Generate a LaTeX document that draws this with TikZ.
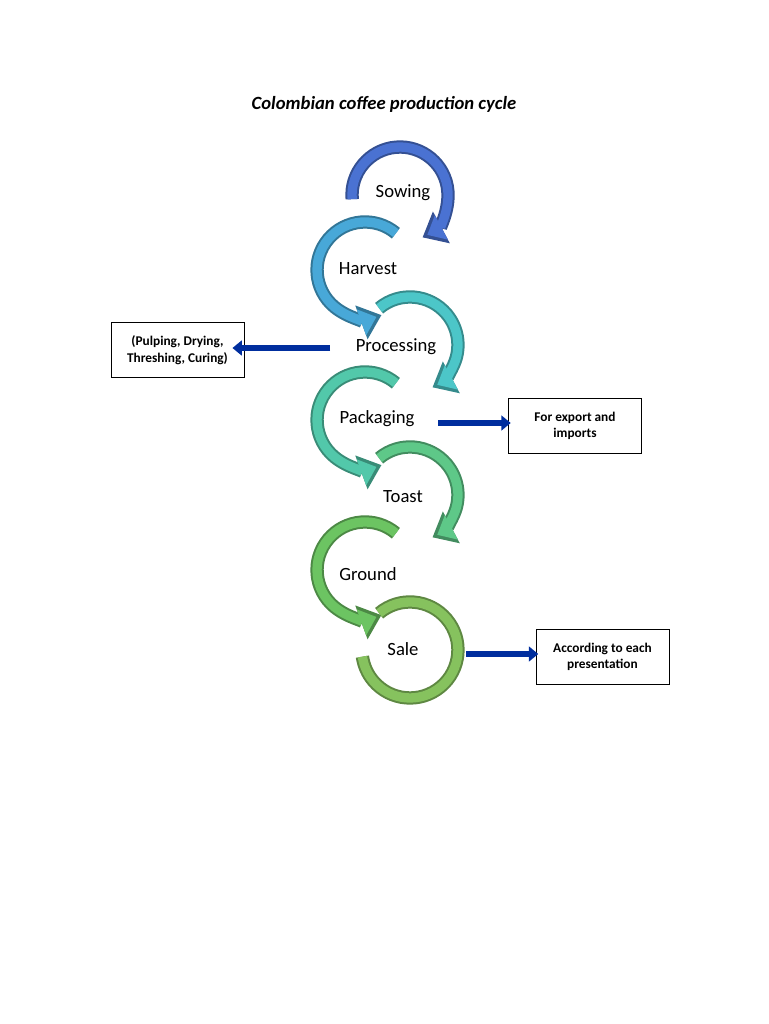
\documentclass[tikz,border=0pt]{standalone}
\usepackage{fontspec}
\setmainfont{Carlito}
\usetikzlibrary{arrows.meta,positioning}

\begin{document}
\begin{tikzpicture}[x=0.75pt,y=0.75pt,semithick,
  ring/.style={line width=10pt,draw=#1!70!black,-{Triangle[width=26pt,length=16pt]},
    postaction={draw=#1,line width=7pt,shorten >=4pt,-{Triangle[width=20pt,length=12pt]}}},
  stage/.style={font=\fontsize{14}{16}\selectfont},
  note/.style={draw,thin,font=\bfseries\fontsize{10}{12.5}\selectfont,align=center,minimum width=100pt,minimum height=41pt},
  side/.style={-{Triangle[width=11pt,length=7pt]},line width=4.5pt,draw=blue!55!teal!80!black}]
\useasboundingbox (0,0) rectangle (768,-1024);
\definecolor{c1}{HTML}{4A72D2}
\definecolor{c2}{HTML}{48A8D8}
\definecolor{c3}{HTML}{4CC6C8}
\definecolor{c4}{HTML}{52C8AA}
\definecolor{c5}{HTML}{5EC888}
\definecolor{c6}{HTML}{6CC462}
\definecolor{c7}{HTML}{86C25E}

\node at (384,-104) {\bfseries\itshape\fontsize{14}{16}\selectfont Colombian coffee production cycle};

% the spiral of arrows
\draw[ring=c1] (352.2,-199.2) arc[start angle=185,end angle=-62,radius=48];
\draw[ring=c2] (395.9,-233.2) arc[start angle=50,end angle=290,radius=48];
\draw[ring=c3] (379.1,-308.2) arc[start angle=130,end angle=-62,radius=48];
\draw[ring=c4] (395.9,-383.2) arc[start angle=50,end angle=290,radius=48];
\draw[ring=c5] (379.1,-458.2) arc[start angle=130,end angle=-62,radius=48];
\draw[ring=c6] (395.9,-533.2) arc[start angle=50,end angle=290,radius=48];
\draw[line width=10pt,draw=c7!70!black] (379.1,-613.2) arc[start angle=130,end angle=-172,radius=48];
\draw[line width=7pt,draw=c7] (379.1,-613.2) arc[start angle=130,end angle=-172,radius=48];

\node[stage] (sowing) at (403,-193) {Sowing};
\node[stage] (harvest) at (368,-269) {Harvest};
\node[stage] (processing) at (396,-347) {Processing};
\node[stage] (packaging) at (377,-419) {Packaging};
\node[stage] (toast) at (403,-497) {Toast};
\node[stage] (ground) at (368,-574) {Ground};
\node[stage] (sale) at (403,-649) {Sale};

% side notes
\node[note] (pulp) at (177.5,-350) {(Pulping, Drying,\\Threshing, Curing)};
\node[note] (export) at (575,-426) {For export and\\imports};
\node[note] (present) at (602.5,-657) {According to each\\presentation};

\coordinate (a1) at (330,-348);
\coordinate (a2) at (438,-423);
\coordinate (a3) at (466,-654);
\draw[side] (a1) -- ([xshift=-9pt]a1 -| pulp.east);
\draw[side] (a2) -- ([xshift=2pt]export.west |- a2);
\draw[side] (a3) -- ([xshift=2pt]present.west |- a3);
\end{tikzpicture}
\end{document}
